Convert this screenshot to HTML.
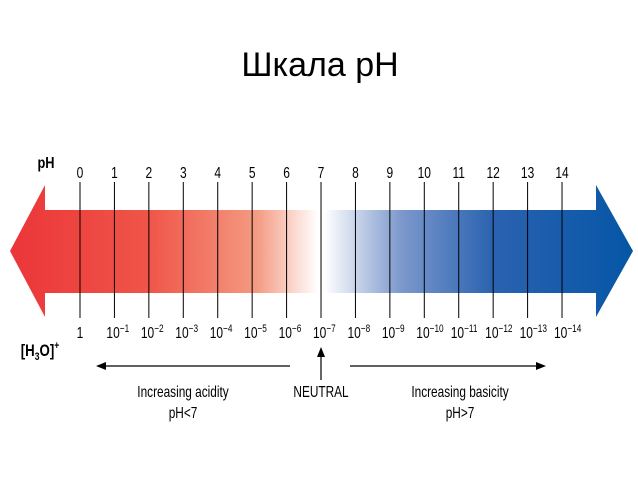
<!DOCTYPE html>
<html><head><meta charset="utf-8"><style>
body{margin:0;background:#fff;}
svg{display:block;font-family:"Liberation Sans",sans-serif;}
</style></head><body>
<svg id="c" width="638" height="478" viewBox="0 0 638 478">
<defs>
<linearGradient id="red" x1="10" x2="318" gradientUnits="userSpaceOnUse">
<stop offset="0" stop-color="#ec3539"/><stop offset="0.45" stop-color="#ef5548"/><stop offset="0.8" stop-color="#f49a82"/><stop offset="1" stop-color="#fff"/></linearGradient>
<linearGradient id="blue" x1="324" x2="633" gradientUnits="userSpaceOnUse">
<stop offset="0" stop-color="#fff"/><stop offset="0.25" stop-color="#7c98cc"/><stop offset="0.55" stop-color="#2a62b0"/><stop offset="1" stop-color="#0556a6"/></linearGradient>
</defs>
<text x="320" y="76" text-anchor="middle" font-size="34" fill="#000">Шкала pH</text>
<polygon points="10,251 45,185 45,210 318,210 318,293 45,293 45,317" fill="url(#red)"/>
<polygon points="324,210 596,210 596,185 633,251 596,317 596,293 324,293" fill="url(#blue)"/>
<text transform="translate(46,168) scale(0.8,1)" text-anchor="middle" font-size="16" font-weight="bold">pH</text>
<text transform="translate(40,356) scale(0.78,1)" text-anchor="middle" font-size="17" font-weight="bold">[H<tspan font-size="11" dy="4">3</tspan><tspan dy="-4">O]</tspan><tspan font-size="11" dy="-7">+</tspan></text>
<g id="ticks"></g>
<line x1="100" y1="366" x2="290" y2="366" stroke="#000" stroke-width="1.2"/>
<polygon points="96,366 106,362 106,370" fill="#000"/>
<line x1="350" y1="366" x2="540" y2="366" stroke="#000" stroke-width="1.2"/>
<polygon points="546,366 536,362 536,370" fill="#000"/>
<line x1="321" y1="352" x2="321" y2="380" stroke="#000" stroke-width="1.2"/>
<polygon points="321,347 317,357 325,357" fill="#000"/>
<text transform="translate(321,397) scale(0.74,1)" text-anchor="middle" font-size="16">NEUTRAL</text>
<text transform="translate(183,397) scale(0.74,1)" text-anchor="middle" font-size="16">Increasing acidity</text>
<text transform="translate(183,418) scale(0.74,1)" text-anchor="middle" font-size="16">pH&lt;7</text>
<text transform="translate(460,397) scale(0.74,1)" text-anchor="middle" font-size="16">Increasing basicity</text>
<text transform="translate(460,418) scale(0.74,1)" text-anchor="middle" font-size="16">pH&gt;7</text>
</svg>
<script>
const phValues=[0,1,2,3,4,5,6,7,8,9,10,11,12,13,14];
const expLabels=["","−1","−2","−3","−4","−5","−6","−7","−8","−9","−10","−11","−12","−13","−14"];
const x=v=>80+v*34.43;
const ns="http://www.w3.org/2000/svg";
const g=document.getElementById('ticks');
phValues.forEach((v,i)=>{
 const l=document.createElementNS(ns,'line');
 
 
 l.setAttribute('x1',x(v));l.setAttribute('x2',x(v));l.setAttribute('y1',182);l.setAttribute('y2',318);
 l.setAttribute('stroke','#000');l.setAttribute('stroke-width','1');g.appendChild(l);
 const t=document.createElementNS(ns,'text');
 
 
 t.setAttribute('transform','translate('+x(v)+',178) scale(0.75,1)');t.setAttribute('text-anchor','middle');t.setAttribute('font-size','16');
 t.textContent=v;g.appendChild(t);
 const b=document.createElementNS(ns,'text');
 
 
 b.setAttribute('font-size','16');
 if(expLabels[i]===""){b.setAttribute('transform','translate('+x(v)+',338) scale(0.75,1)');b.setAttribute('text-anchor','middle');b.textContent='1';}
 else{b.setAttribute('transform','translate('+(x(v)-8)+',338) scale(0.75,1)');b.setAttribute('text-anchor','start');
  b.innerHTML='10<tspan font-size="11" dy="-6">'+expLabels[i]+'</tspan>';}
 g.appendChild(b);
});
</script>
</body></html>
